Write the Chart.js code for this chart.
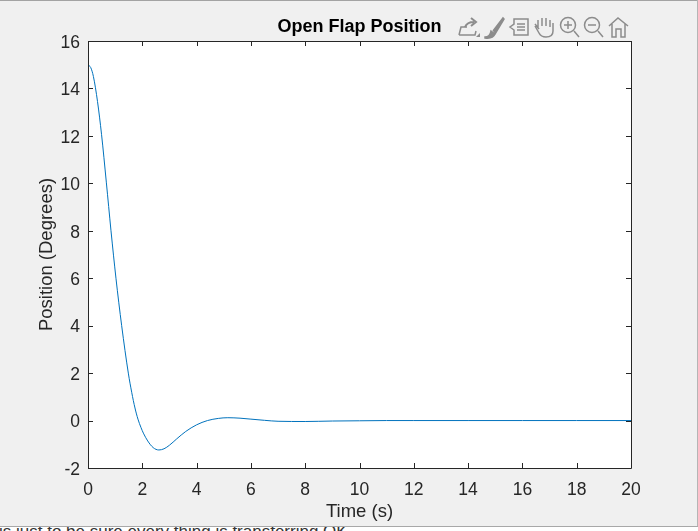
<!DOCTYPE html>
<html>
<head>
<meta charset="utf-8">
<title>Open Flap Position</title>
<script src="https://cdn.jsdelivr.net/npm/chart.js@4"></script>
<style>
html, body { margin: 0; padding: 0; background: #f0f0f0; overflow: hidden; }
#wrap { position: relative; width: 698px; height: 531px; overflow: hidden; }
#flapChart { position: absolute; left: 0; top: 0; }
#topLine { position: absolute; left: 0; top: 0; width: 698px; height: 1px; background: #a3a3a3; }
#rightLine { position: absolute; right: 0; top: 0; width: 1px; height: 527px; background: #b5b5b5; }
#bottomStrip { position: absolute; left: 0; top: 526px; width: 698px; height: 4px; background: #fff; border-top: 1px solid #a8a8a8; overflow: hidden; }
#bottomStrip span { position: absolute; left: -1px; top: -5px; font: 17px "Liberation Sans", Arial, sans-serif; color: #333; white-space: nowrap; }
#tools { position: absolute; left: 456px; top: 14px; }
</style>
</head>
<body>
<div id="wrap">
  <canvas id="flapChart" width="698" height="531"></canvas>
  <svg id="tools" width="176" height="26" viewBox="0 0 176 26" fill="none" stroke="#8c8c8c" stroke-width="1.5">
    <path d="M3 21 L5 13 H11 M3 21 H19 L20 17" />
    <path d="M9 13 Q11 8 18 8 M15 4 L20 8 L15 12" stroke-width="2"/>
    <path d="M20 23 L24 23 L24 19 Z" fill="#8c8c8c" stroke="none"/>
    <path d="M29 23 Q34 23 35 17 L39 20 Q37 25 29 24 Z" fill="#8c8c8c"/>
    <path d="M37 17 L47 4 L48 5 L39 20" fill="#8c8c8c"/>
    <path d="M58 5 H72 V21 H58 V16 L54 13 L58 10 Z M61 10 H69 M61 13 H69 M61 16 H69"/>
    <path d="M83 15 L79 10 M82 13 V6 M86 12 V4 M90 12 V4 M94 13 V6 M97 15 V9 L97 17 Q97 23 90 23 Q85 23 83 19 L79 12"/>
    <circle cx="112" cy="11" r="7.5"/><path d="M118 17 L123 23 M108 11 H116 M112 7 V15"/>
    <circle cx="136" cy="11" r="7.5"/><path d="M142 17 L147 23 M132 11 H140"/>
    <path d="M153 12 L162 4 L172 12 M156 10 V23 H160 V15 H165 V23 H169 V10"/>
  </svg>
  <div id="topLine"></div>
  <div id="rightLine"></div>
  <div id="bottomStrip"><span>is just to be sure every thing is transferring OK</span></div>
</div>
<script>
const chartTitle = 'Open Flap Position';
const xLabel = 'Time (s)';
const yLabel = 'Position (Degrees)';
const timeValues = [0, 0.1, 0.2, 0.35, 0.5, 0.675, 0.847, 1.03, 1.24, 1.485, 1.61, 1.73, 1.84, 1.95, 2.04, 2.2, 2.4, 2.61, 2.8, 3.0, 3.27, 3.6, 4.0, 4.4, 4.8, 5.15, 5.6, 6.0, 6.5, 7, 8, 9, 10, 11, 12, 14, 16, 18, 20];
const positionValues = [15, 14.88, 14.5, 13.45, 12.05, 10.05, 8, 6, 4, 2, 1.19, 0.53, 0.06, -0.29, -0.53, -0.86, -1.14, -1.24, -1.19, -1.04, -0.77, -0.46, -0.18, 0, 0.09, 0.12, 0.1, 0.06, 0.01, -0.03, -0.04, -0.02, -0.01, 0, 0, 0, 0, 0, 0];
const xTicks = [0, 2, 4, 6, 8, 10, 12, 14, 16, 18, 20];
const yTicks = [-2, 0, 2, 4, 6, 8, 10, 12, 14, 16];

const axisColor = '#262626';
const fontName = '"Liberation Sans", Arial, sans-serif';

// caja blanca, borde y marcas hacia adentro como en MATLAB
const matlabBox = {
    id: 'matlabBox',
    beforeDatasetsDraw(chart) {
        const a = chart.chartArea;
        const c = chart.ctx;
        c.save();
        c.fillStyle = '#fff';
        c.fillRect(a.left, a.top, a.right - a.left, a.bottom - a.top);
        c.restore();
    },
    afterDatasetsDraw(chart) {
        const a = chart.chartArea;
        const c = chart.ctx;
        const len = 5;
        c.save();
        c.strokeStyle = axisColor;
        c.lineWidth = 1;
        c.beginPath();
        c.rect(a.left + 0.5, a.top + 0.5, a.right - a.left, a.bottom - a.top);
        xTicks.forEach(v => {
            const x = Math.round(chart.scales.x.getPixelForValue(v)) + 0.5;
            c.moveTo(x, a.bottom); c.lineTo(x, a.bottom - len);
            c.moveTo(x, a.top); c.lineTo(x, a.top + len);
        });
        yTicks.forEach(v => {
            const y = Math.round(chart.scales.y.getPixelForValue(v)) + 0.5;
            c.moveTo(a.left, y); c.lineTo(a.left + len, y);
            c.moveTo(a.right, y); c.lineTo(a.right - len, y);
        });
        c.stroke();
        c.restore();
    }
};

new Chart(document.getElementById('flapChart').getContext('2d'), {
    type: 'line',
    data: {
        labels: timeValues,
        datasets: [{
            data: timeValues.map((t, i) => ({ x: t, y: positionValues[i] })),
            borderColor: '#0072bd',
            borderWidth: 1,
            pointRadius: 0,
            cubicInterpolationMode: 'monotone',
            fill: false
        }]
    },
    options: {
        responsive: false,
        animation: false,
        layout: { padding: { right: 67, left: 0, top: 0, bottom: 0 } },
        plugins: {
            legend: { display: false },
            tooltip: { enabled: false },
            title: {
                display: true,
                text: chartTitle,
                color: '#000',
                fullSize: false,
                font: { family: fontName, size: 18, weight: 'bold', lineHeight: 1.2 },
                padding: { top: 16, bottom: 3.4 }
            }
        },
        scales: {
            x: {
                type: 'linear',
                min: 0,
                max: 20,
                afterFit(scale) { scale.height = 63; },
                afterBuildTicks(scale) { scale.ticks = xTicks.map(v => ({ value: v })); },
                grid: { display: false },
                border: { display: false },
                ticks: { color: axisColor, maxRotation: 0, autoSkip: false, padding: 4, font: { family: fontName, size: 17.5 } },
                title: { display: true, text: xLabel, color: axisColor, padding: { top: 3, bottom: 8 }, font: { family: fontName, size: 18.5 } }
            },
            y: {
                min: -2,
                max: 16,
                afterFit(scale) { scale.width = 88; },
                afterBuildTicks(scale) { scale.ticks = yTicks.map(v => ({ value: v })); },
                grid: { display: false },
                border: { display: false },
                ticks: { color: axisColor, autoSkip: false, padding: 0, labelOffset: 2, font: { family: fontName, size: 17.5 } },
                title: { display: true, text: yLabel, color: axisColor, padding: { top: 36, bottom: 4 }, font: { family: fontName, size: 18.5 } }
            }
        }
    },
    plugins: [matlabBox]
});
</script>
</body>
</html>
